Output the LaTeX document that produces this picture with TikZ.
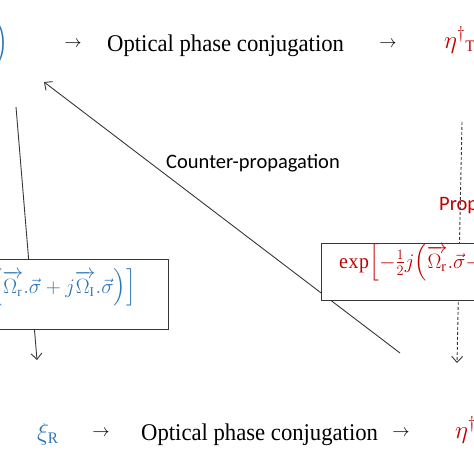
\documentclass[tikz,border=0pt]{standalone}
\usepackage{fontspec}
\usepackage{amsmath}
\setmainfont[FakeStretch=0.945]{Liberation Serif}
\newfontfamily\calfont{Carlito}
\usetikzlibrary{arrows.meta}
\definecolor{myblue}{RGB}{46,117,182}
\definecolor{myred}{RGB}{192,0,0}
\definecolor{lincol}{RGB}{55,55,55}
\begin{document}
\begin{tikzpicture}[x=1pt,y=-1pt,
  serif/.style={font=\fontsize{24}{28}\selectfont, inner sep=0pt},
  symb/.style={font=\fontsize{16}{18}\selectfont, inner sep=0pt},
  mth/.style={font=\fontsize{19.5}{22}\selectfont, inner sep=0pt},
  bigmth/.style={font=\fontsize{23}{26}\selectfont, inner sep=0pt},
  sans/.style={font=\calfont\fontsize{20.5}{24}\selectfont, inner sep=0pt},
  conn/.style={draw=lincol, line width=0.9pt, -{Straight Barb[length=6pt,width=11pt]}},
  dconn/.style={conn, dash pattern=on 3pt off 2pt},
  boxst/.style={draw=lincol, line width=1.2pt, fill=white, rectangle, inner sep=0pt}]
\useasboundingbox (0,0) rectangle (474,474);
\clip (0,0) rectangle (474,474);
% named end points of the connectors
\coordinate (ltop) at (16,107);
\coordinate (lbot) at (37,360);
\coordinate (dstart) at (400,353);
\coordinate (dend) at (44,82);
\coordinate (vtop) at (462,122);
\coordinate (vbot) at (457,363);
% top row
\node[mth, text=myblue, anchor=east] (xiT) at (9,44) {$\biggr)$};
\node[symb] (ar1) at (73,44) {$\rightarrow$};
\node[serif, anchor=base west] (opc1) at (107,51) {Optical phase conjugation};
\node[symb] (ar2) at (388,44) {$\rightarrow$};
\node[bigmth, text=myred, anchor=base west] (etaT) at (444,48) {$\eta^{\dagger}{}_{\mathrm{T}}$};
% labels
\node[sans, anchor=base west] (cp) at (166,168) {Counter-propagation};
\node[sans, text=myred, anchor=base west] (prop) at (439,210) {Propagation};
% connectors
\draw[conn] (ltop) -- (lbot);
\draw[conn] (dstart) -- (dend);
\draw[dconn] (vtop) -- (vbot);
% boxes
\node[boxst, minimum width=220pt, minimum height=70pt, anchor=north east] (lbox) at (169,259) {};
\node[boxst, minimum width=200pt, minimum height=57pt, anchor=north west] (rbox) at (321,243) {};
\node[mth, text=myblue, anchor=base east] (ltxt) at (136,293)
  {$\Bigl(\overrightarrow{\Omega_{\mathrm{r}}}.\vec{\sigma}+j\overrightarrow{\Omega_{\mathrm{I}}}.\vec{\sigma}\Bigr)\Bigr]$};
\node[mth, font=\fontsize{21}{24}\selectfont, text=myred, anchor=base west] (rtxt) at (339,268)
  {$\exp\Bigl[-\tfrac{1}{2}j\Bigl(\overrightarrow{\Omega_{\mathrm{r}}}.\vec{\sigma}-$};
% bottom row
\node[bigmth, text=myblue, anchor=base west] (xiR) at (37,440) {$\xi_{\mathrm{R}}$};
\node[symb] (ar3) at (101,433) {$\rightarrow$};
\node[serif, anchor=base west] (opc2) at (141,440) {Optical phase conjugation};
\node[symb] (ar4) at (401,433) {$\rightarrow$};
\node[bigmth, text=myred, anchor=base west] (etaR) at (455,438) {$\eta^{\dagger}{}_{\mathrm{R}}$};
\end{tikzpicture}
\end{document}
